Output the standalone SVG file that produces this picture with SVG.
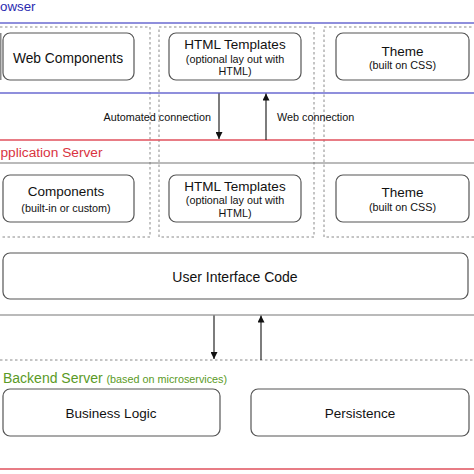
<svg xmlns="http://www.w3.org/2000/svg" width="474" height="474" viewBox="0 0 474 474">
<defs>
<marker id="ah" viewBox="0 0 10 10" refX="10" refY="5" markerWidth="7" markerHeight="7" markerUnits="userSpaceOnUse" orient="auto">
<path d="M0,0 L10,5 L0,10 z" fill="#111"/>
</marker>
<style>
text{font-family:"Liberation Sans",Arial,sans-serif;fill:#111}
.box{fill:#fff;stroke:#555;stroke-width:1.2}
.t{font-size:13.5px;text-anchor:middle}
.s{font-size:10.8px;text-anchor:middle}
.dot{fill:none;stroke:#8a8a8a;stroke-width:1;stroke-dasharray:2.5,2.5}
.arr{stroke:#111;stroke-width:1.1;fill:none;marker-end:url(#ah)}
.lbl{font-size:10.8px}
</style>
</defs>
<rect width="474" height="474" fill="#fff"/>

<g id="zones">
<rect class="dot" x="-5" y="27" width="155" height="210"/>
<rect class="dot" x="159" y="27" width="155" height="210"/>
<rect class="dot" x="324" y="27" width="160" height="210"/>
<line x1="0" y1="23" x2="474" y2="23" stroke="#6a6ad0" stroke-width="1.3"/>
<line x1="0" y1="93" x2="474" y2="93" stroke="#6a6ad0" stroke-width="1.3"/>
<line x1="0" y1="140" x2="474" y2="140" stroke="#e0505c" stroke-width="1.3"/>
<line x1="0" y1="163" x2="474" y2="163" stroke="#777" stroke-width="1.2"/>
<line x1="0" y1="315" x2="474" y2="315" stroke="#777" stroke-width="1.2"/>
<line class="dot" x1="0" y1="360" x2="474" y2="360" stroke="#555"/>
<line x1="0" y1="469" x2="474" y2="469" stroke="#e0505c" stroke-width="1.3"/>
<text x="0" y="11" style="font-size:13.3px;fill:#2a2ab0">owser</text>
<text x="0.5" y="157" style="font-size:13.7px;fill:#d9343f">pplication Server</text>
<text x="3" y="383" style="font-size:14px;fill:#5a9a26">Backend Server <tspan style="font-size:10.8px">(based on microservices)</tspan></text>
<rect x="0" y="33" width="1.5" height="47" fill="#888"/>
</g>

<g id="web-components">
<rect class="box" x="3" y="33" width="131" height="47" rx="7"/>
<text class="t" x="68" y="62.5" style="font-size:13.8px">Web Components</text>
</g>
<g id="html-templates-browser">
<rect class="box" x="169" y="33" width="132" height="47" rx="7"/>
<text class="t" x="235" y="49">HTML Templates</text>
<text class="s" x="235" y="62.5">(optional lay out with</text>
<text class="s" x="235" y="75">HTML)</text>
</g>
<g id="theme-browser">
<rect class="box" x="336" y="33" width="133" height="47" rx="7"/>
<text class="t" x="402.5" y="55.5">Theme</text>
<text class="s" x="402.5" y="69">(built on CSS)</text>
</g>

<g id="components">
<rect class="box" x="3" y="175" width="131" height="47" rx="7"/>
<text class="t" x="66" y="195.5">Components</text>
<text class="s" x="66" y="212">(built-in or custom)</text>
</g>
<g id="html-templates-server">
<rect class="box" x="169" y="175" width="132" height="47" rx="7"/>
<text class="t" x="235" y="190.7">HTML Templates</text>
<text class="s" x="235" y="204">(optional lay out with</text>
<text class="s" x="235" y="216.5">HTML)</text>
</g>
<g id="theme-server">
<rect class="box" x="336" y="175" width="133" height="47" rx="7"/>
<text class="t" x="402.5" y="197">Theme</text>
<text class="s" x="402.5" y="210.5">(built on CSS)</text>
</g>

<g id="ui-code">
<rect class="box" x="3" y="253" width="465" height="46" rx="7"/>
<text class="t" x="235" y="281.5" style="font-size:14px">User Interface Code</text>
</g>

<g id="business-logic">
<rect class="box" x="3" y="389" width="217" height="47" rx="7"/>
<text class="t" x="111" y="418">Business Logic</text>
</g>
<g id="persistence">
<rect class="box" x="251" y="389" width="218" height="47" rx="7"/>
<text class="t" x="360" y="418">Persistence</text>
</g>

<g id="connectors">
<line class="arr" x1="219" y1="93.5" x2="219" y2="139"/>
<line class="arr" x1="266" y1="140" x2="266" y2="93.5"/>
<text class="lbl" x="211" y="121" text-anchor="end">Automated connection</text>
<text class="lbl" x="277" y="121">Web connection</text>
<line class="arr" x1="214" y1="315.5" x2="214" y2="359"/>
<line class="arr" x1="261" y1="360" x2="261" y2="315.5"/>
</g>
</svg>
